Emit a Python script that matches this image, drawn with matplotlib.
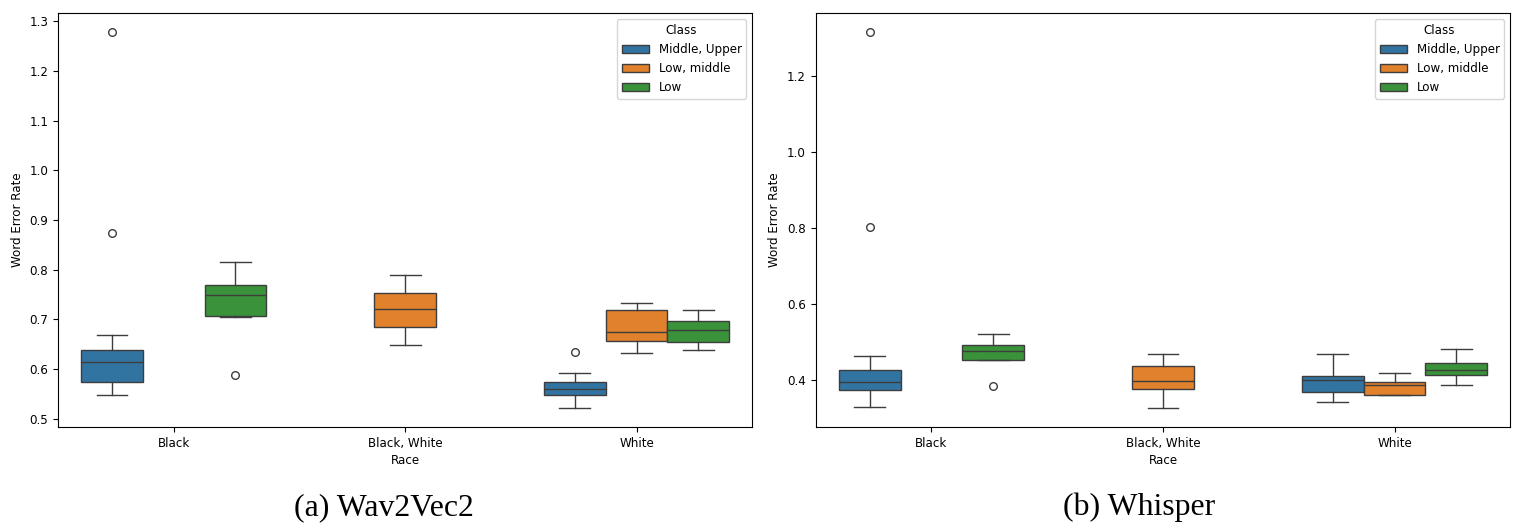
import matplotlib
matplotlib.use("Agg")
import matplotlib.pyplot as plt
from matplotlib.patches import Patch
import colorsys

# ---------------- data ----------------
races = ["Black", "Black, White", "White"]
classes = ["Middle, Upper", "Low, middle", "Low"]

# Wav2Vec2: one entry per drawn box
w2v_race = [0, 0, 1, 2, 2, 2]
w2v_class = [0, 2, 1, 0, 1, 2]
w2v_whislo = [0.548, 0.705, 0.649, 0.521, 0.631, 0.639]
w2v_q1 = [0.574, 0.706, 0.685, 0.548, 0.657, 0.655]
w2v_med = [0.614, 0.749, 0.720, 0.560, 0.675, 0.679]
w2v_q3 = [0.637, 0.768, 0.752, 0.574, 0.719, 0.696]
w2v_whishi = [0.669, 0.816, 0.790, 0.592, 0.733, 0.719]
w2v_fliers = [[1.278, 0.873], [0.588], [], [0.633], [], []]

# Whisper
wsp_race = [0, 0, 1, 2, 2, 2]
wsp_class = [0, 2, 1, 0, 1, 2]
wsp_whislo = [0.327, 0.452, 0.325, 0.341, 0.358, 0.386]
wsp_q1 = [0.372, 0.452, 0.375, 0.367, 0.360, 0.411]
wsp_med = [0.393, 0.476, 0.397, 0.399, 0.386, 0.425]
wsp_q3 = [0.426, 0.490, 0.435, 0.409, 0.393, 0.443]
wsp_whishi = [0.462, 0.521, 0.466, 0.466, 0.417, 0.480]
wsp_fliers = [[1.315, 0.803], [0.383], [], [], [], []]

captions = ["(a) Wav2Vec2", "(b) Whisper"]

# ---------------- style ----------------
base = [(0.12156862745098039, 0.4666666666666667, 0.7058823529411765),
        (1.0, 0.4980392156862745, 0.054901960784313725),
        (0.17254901960784313, 0.6274509803921569, 0.17254901960784313)]


def desaturate(c, prop=0.75):
    h, l, s = colorsys.rgb_to_hls(*c)
    return colorsys.hls_to_rgb(h, l, s * prop)


colors = [desaturate(c) for c in base]
gray_level = min(colorsys.rgb_to_hls(*c)[1] for c in colors) * 0.6
lc = (gray_level, gray_level, gray_level)

plt.rcParams["font.family"] = "DejaVu Sans"
fs = 8.6

fig = plt.figure(figsize=(15.22, 5.27), dpi=100)
ax_rects = [[0.0381, 0.1898, 0.4562, 0.785], [0.5359, 0.1898, 0.4564, 0.785]]
cap_x = [0.2523, 0.7484]

models = [
    (w2v_race, w2v_class, w2v_whislo, w2v_q1, w2v_med, w2v_q3, w2v_whishi, w2v_fliers,
     (0.483, 1.316), [0.5, 0.6, 0.7, 0.8, 0.9, 1.0, 1.1, 1.2, 1.3]),
    (wsp_race, wsp_class, wsp_whislo, wsp_q1, wsp_med, wsp_q3, wsp_whishi, wsp_fliers,
     (0.275, 1.365), [0.4, 0.6, 0.8, 1.0, 1.2]),
]

n_hue = len(classes)
width = 0.8 / n_hue
lw = 1.0

for rect, model, cap, cx in zip(ax_rects, models, captions, cap_x):
    rc, cc, wlo, q1, med, q3, whi, fl, ylim, yt = model
    ax = fig.add_axes(rect)
    for i in range(len(rc)):
        pos = rc[i] + (cc[i] - (n_hue - 1) / 2) * width
        stats = [dict(whislo=wlo[i], q1=q1[i], med=med[i], q3=q3[i],
                      whishi=whi[i], fliers=fl[i])]
        ax.bxp(stats, positions=[pos], widths=[width], patch_artist=True,
               showfliers=True, manage_ticks=False,
               boxprops=dict(facecolor=colors[cc[i]], edgecolor=lc, linewidth=lw),
               medianprops=dict(color=lc, linewidth=lw),
               whiskerprops=dict(color=lc, linewidth=lw),
               capprops=dict(color=lc, linewidth=lw),
               flierprops=dict(marker="o", markerfacecolor="none",
                               markeredgecolor=lc, markersize=5.5,
                               markeredgewidth=lw, linestyle="none"))
    ax.set_xlim(-0.5, len(races) - 0.5)
    ax.set_ylim(*ylim)
    ax.set_xticks(range(len(races)))
    ax.set_xticklabels(races, fontsize=fs)
    ax.set_yticks(yt)
    ax.set_yticklabels([f"{v:.1f}" for v in yt], fontsize=fs)
    ax.set_xlabel("Race", fontsize=fs, labelpad=3)
    ax.set_ylabel("Word Error Rate", fontsize=fs)
    handles = [Patch(facecolor=colors[k], edgecolor=lc, linewidth=lw, label=classes[k])
               for k in range(n_hue)]
    ax.legend(handles=handles, title="Class", loc="upper right", fontsize=fs,
              title_fontsize=fs, handlelength=2.3)
    fig.text(cx, 0.0228, cap, ha="center", va="baseline",
             family="Liberation Serif", fontsize=22.9)

fig.savefig("out.png", dpi=100)
